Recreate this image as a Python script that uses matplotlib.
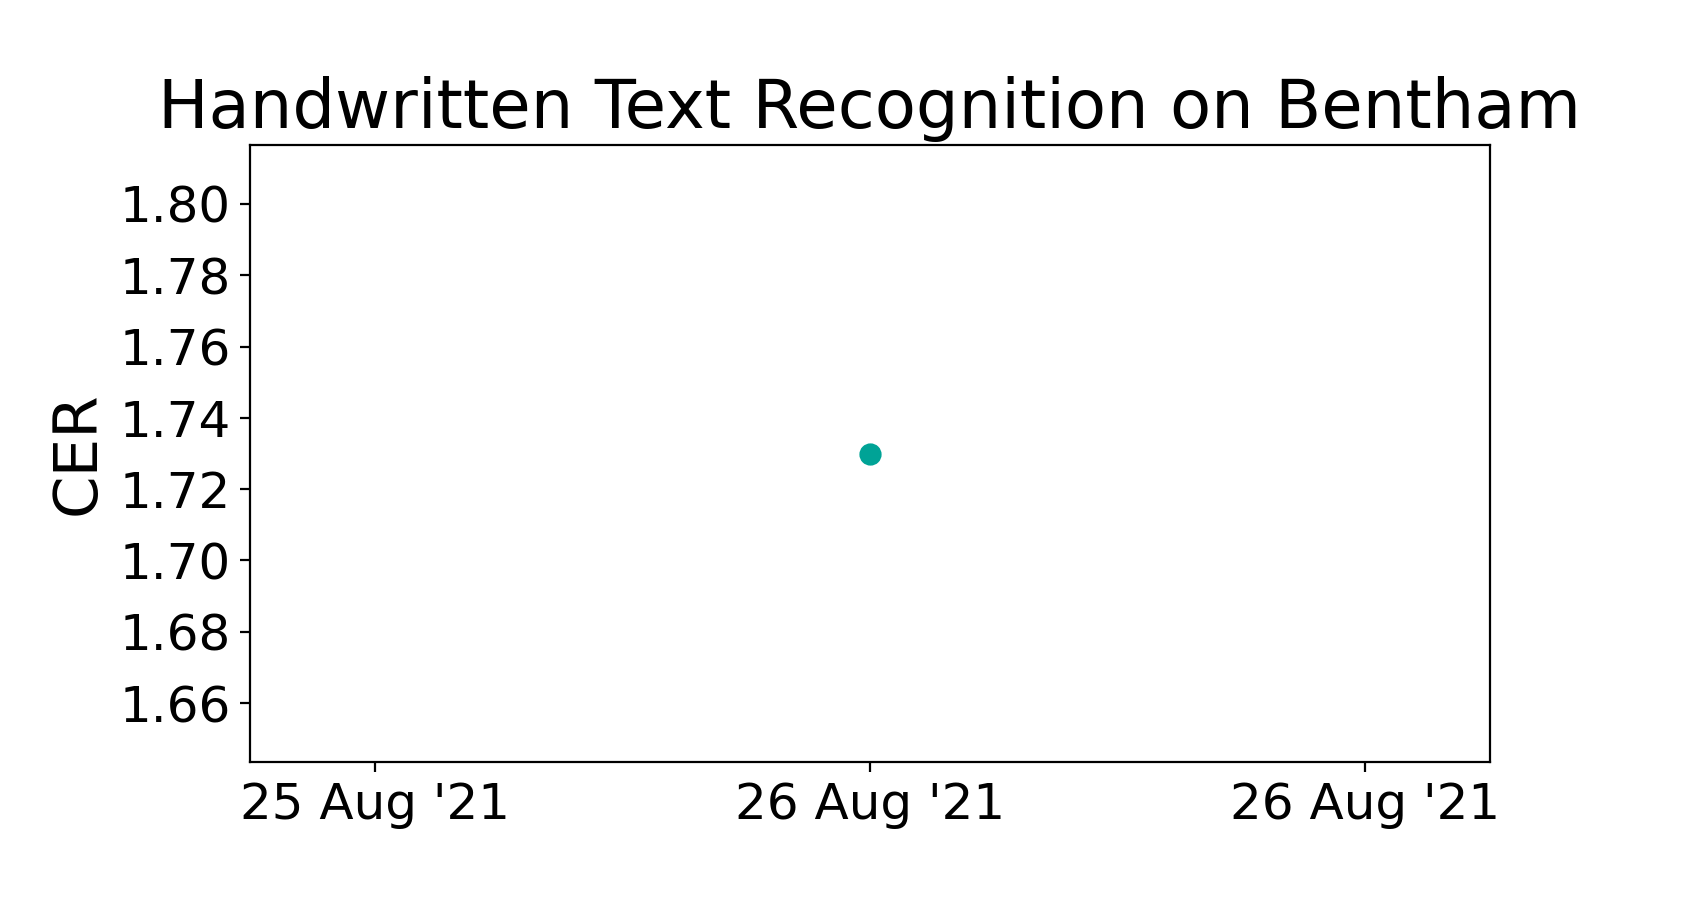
import matplotlib
matplotlib.use("Agg")
import matplotlib.pyplot as plt
import matplotlib.dates as mdates
from datetime import datetime, timedelta

dates = [datetime(2021, 8, 26, 6, 0)]
cer = [1.73]
title = "Handwritten Text Recognition on Bentham"
ylabel = "CER"

fig = plt.figure(figsize=(8.5, 4.5), dpi=200)
ax = fig.add_axes([250/1700, 1 - 762/900, 1240/1700, 617/900])
ax.plot(dates, cer, 'o', color='#00A396', markersize=7, linestyle='none')

center = dates[0]
step = timedelta(hours=12)
ax.set_xlim(center - step * 1.2525, center + step * 1.2525)
ax.set_xticks([center - step, center, center + step])
ax.xaxis.set_major_formatter(mdates.DateFormatter("%d %b '%y"))
ax.set_ylim(1.6435, 1.8165)
ax.set_yticks([1.66, 1.68, 1.70, 1.72, 1.74, 1.76, 1.78, 1.80])
ax.yaxis.set_major_formatter(matplotlib.ticker.FormatStrFormatter('%.2f'))
ax.tick_params(labelsize=18)
ax.set_ylabel(ylabel, fontsize=22)
ax.set_title(title, fontsize=24.2)

fig.savefig("out.png", dpi=200)
